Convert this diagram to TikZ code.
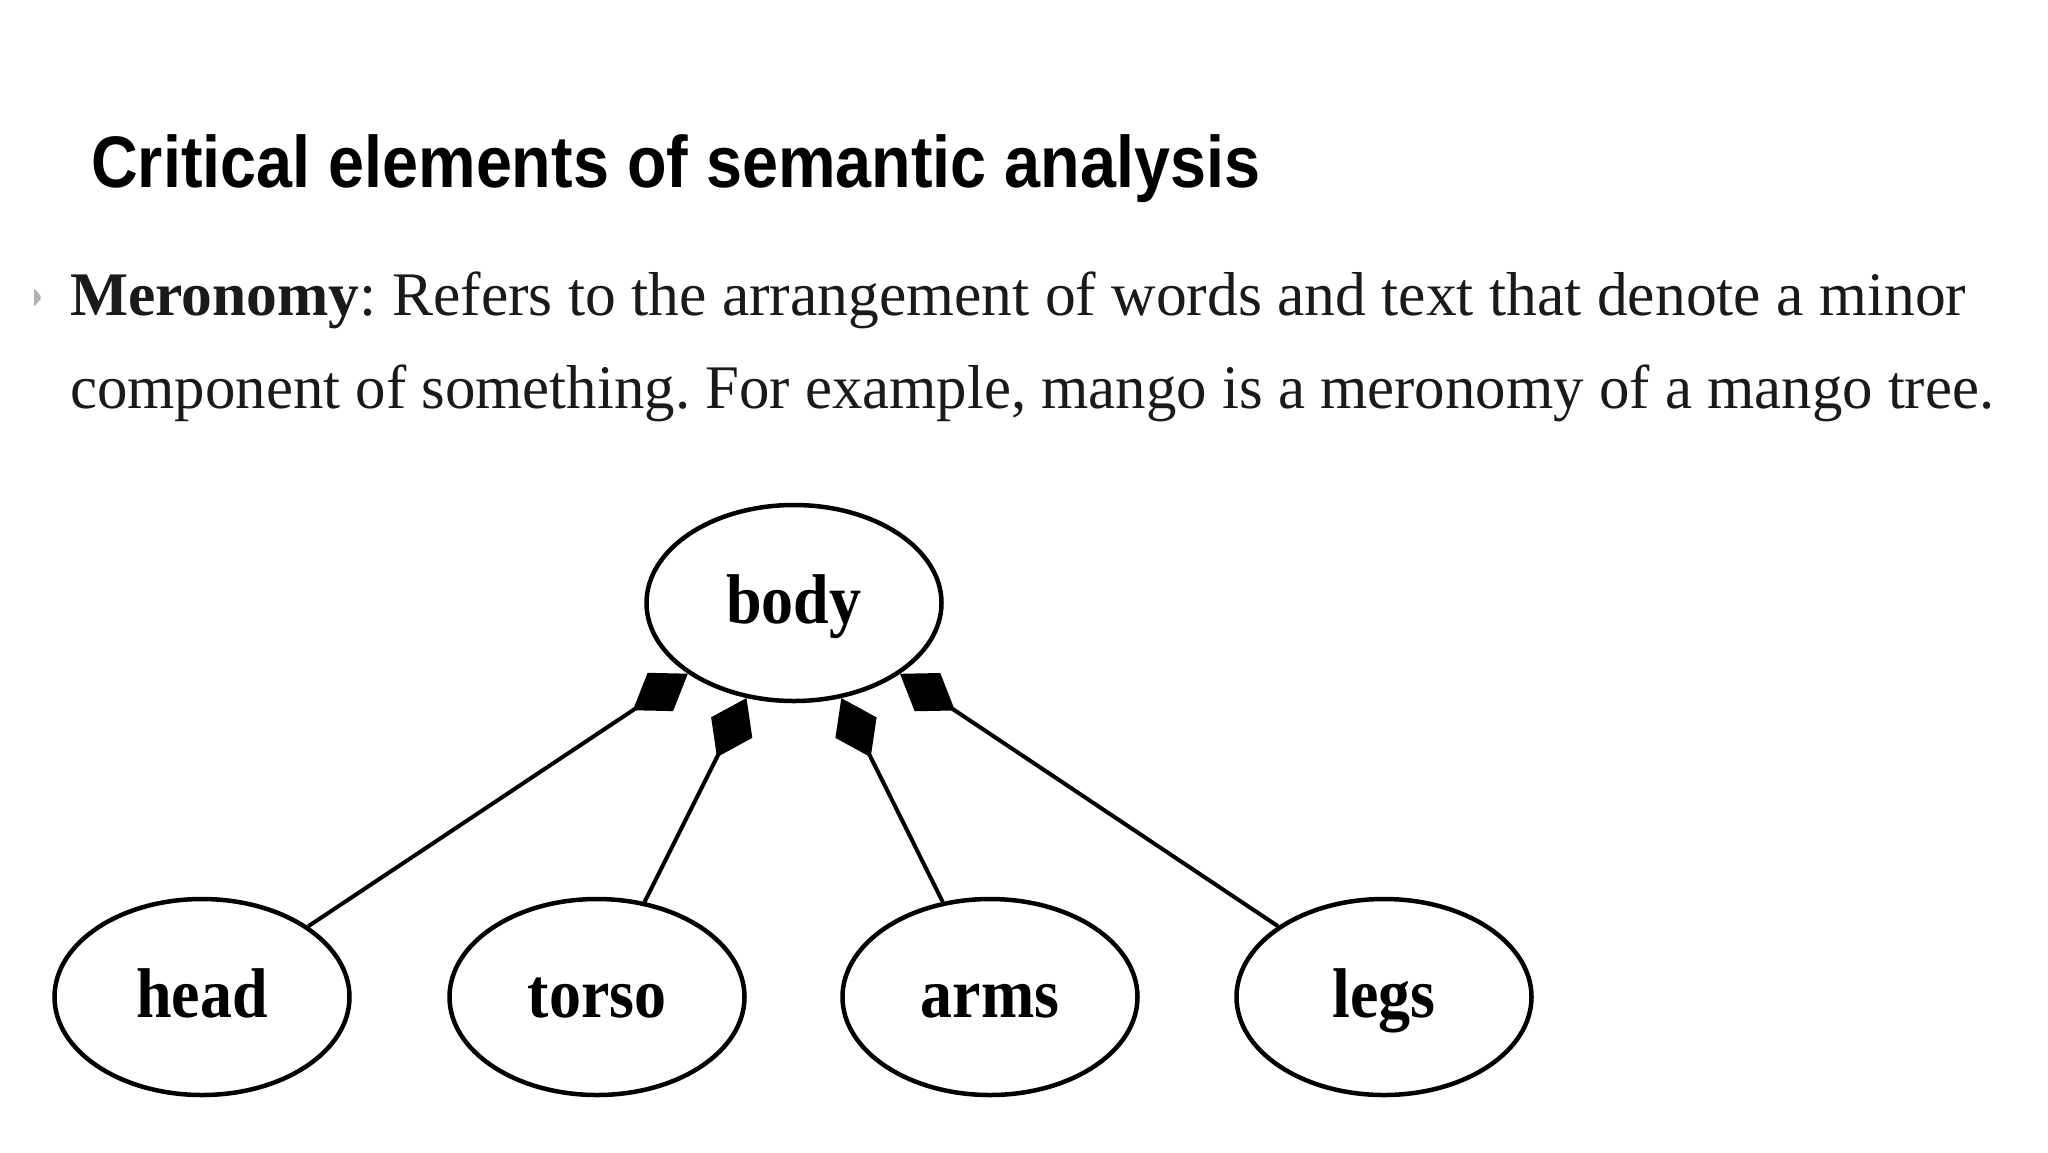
\documentclass[tikz,border=0pt]{standalone}
\usepackage{fontspec}
\usepackage{graphicx}
\setmainfont{Liberation Serif}
\setsansfont{Liberation Sans}
\usetikzlibrary{shapes.geometric,arrows.meta}
\definecolor{txt}{HTML}{1A1A1A}
\frenchspacing
\tikzset{
  part/.style={draw, ellipse, line width=4.5pt, minimum width=295pt, minimum height=196pt,
    inner sep=0pt, text height=41pt, text depth=0pt,
    font=\fontsize{64}{70}\selectfont\bfseries},
  hasa/.style={line width=4pt, -{Diamond[length=66pt,width=46pt]}},
  line/.style={anchor=base west, inner sep=0pt, text=txt, font=\fontsize{62}{70}\selectfont},
}
\newcommand{\lab}[1]{\scalebox{1}[1.1]{#1}}
\begin{document}
\begin{tikzpicture}[x=1pt,y=-1pt]
  \fill[white] (0,0) rectangle (2048,1152);
  \useasboundingbox (0,0) rectangle (2048,1152);

  \node[anchor=base west, inner sep=0pt, font=\sffamily\bfseries\fontsize{73}{80}\selectfont] (title) at (91,187)
    {\resizebox{1169pt}{\height}{Critical elements of semantic analysis}};

  \fill[gray!60, rounded corners=2pt] (34,288) -- (42,297.5) -- (34,307) -- cycle;
  \node[line] (l1) at (70,315)
    {\resizebox{1896pt}{\height}{\textbf{Meronomy}: Refers to the arrangement of words and text that denote a minor}};
  \node[line] (l2) at (70,408)
    {\resizebox{1924pt}{\height}{component of something. For example, mango is a meronomy of a mango tree.}};

  \node[part] (body)  at (794,603)  {\lab{body}};
  \node[part] (head)  at (202,997)  {\lab{head}};
  \node[part] (torso) at (597,997)  {\lab{torso}};
  \node[part] (arms)  at (990,997)  {\lab{arms}};
  \node[part] (legs)  at (1384,997) {\lab{legs}};

  \draw[hasa] (head)  -- (body);
  \draw[hasa] (torso) -- (body);
  \draw[hasa] (arms)  -- (body);
  \draw[hasa] (legs)  -- (body);
\end{tikzpicture}
\end{document}
